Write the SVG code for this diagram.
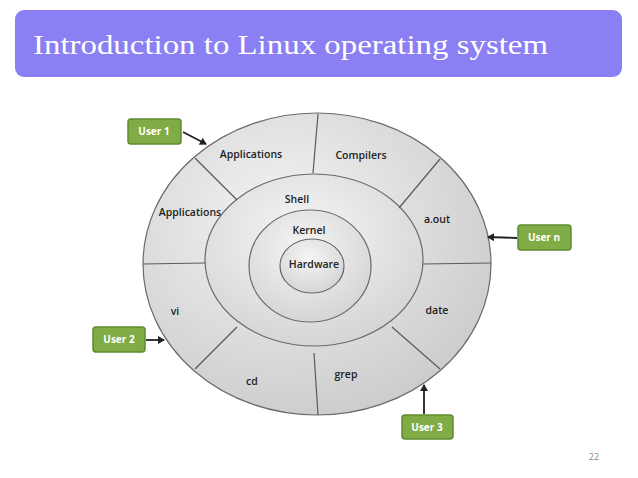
<svg xmlns="http://www.w3.org/2000/svg" width="638" height="478" viewBox="0 0 638 478">
<style>
.lbl{font-family:"Open Sans","DejaVu Sans",sans-serif;font-size:10.5px;fill:#222;text-anchor:middle;font-weight:600}
.usr{font-family:"Open Sans","DejaVu Sans",sans-serif;font-size:10px;fill:#fff;text-anchor:middle;font-weight:bold}
.ring{stroke:#6a6a6a;stroke-width:1.2}
.div{stroke:#5a5a5a;stroke-width:1.2}
.ub{fill:#7fac44;stroke:#5f8a30;stroke-width:1.5}
.ar{stroke:#222;stroke-width:1.8;fill:none;marker-end:url(#ah)}
</style>
<defs>
<radialGradient id="g1" cx="0.4" cy="0.35" r="0.75"><stop offset="0" stop-color="#f4f4f4"/><stop offset="1" stop-color="#c8c8c8"/></radialGradient>
<radialGradient id="g2" cx="0.45" cy="0.35" r="0.75"><stop offset="0" stop-color="#f6f6f6"/><stop offset="1" stop-color="#d0d0d0"/></radialGradient>
<marker id="ah" markerWidth="8" markerHeight="8" refX="6" refY="4" orient="auto" markerUnits="userSpaceOnUse"><path d="M0,0 L7,4 L0,8 Z" fill="#222"/></marker>
</defs>
<rect width="638" height="478" fill="#fff"/>
<g id="title"><rect x="15" y="10" width="607" height="67" rx="9" fill="#8b80f3"/>
<text x="33" y="54" font-family="Liberation Serif,serif" font-size="28" fill="#fff" textLength="515" lengthAdjust="spacingAndGlyphs">Introduction to Linux operating system</text></g>
<g id="outer"><ellipse cx="317" cy="264" rx="174" ry="151" class="ring" fill="url(#g1)"/></g>
<g id="shell"><ellipse cx="314" cy="260" rx="109" ry="86" class="ring" fill="url(#g2)"/><text x="297" y="203" class="lbl">Shell</text></g>
<g id="kernel"><ellipse cx="310" cy="266" rx="61" ry="56" class="ring" fill="url(#g2)"/><text x="309" y="234" class="lbl">Kernel</text></g>
<g id="hardware"><ellipse cx="312" cy="266" rx="32" ry="27" class="ring" fill="url(#g2)"/><text x="314" y="268" class="lbl">Hardware</text></g>
<g id="dividers">
<line x1="313" y1="173" x2="318" y2="114" class="div"/>
<line x1="399" y1="208" x2="440" y2="159" class="div"/>
<line x1="423" y1="264" x2="491" y2="263" class="div"/>
<line x1="392" y1="327" x2="440" y2="369" class="div"/>
<line x1="314" y1="353" x2="318" y2="415" class="div"/>
<line x1="237" y1="327" x2="195" y2="369" class="div"/>
<line x1="205" y1="263" x2="143" y2="264" class="div"/>
<line x1="237" y1="200" x2="195" y2="158" class="div"/>
</g>
<g id="segments">
<text x="251" y="158" class="lbl">Applications</text>
<text x="361" y="159" class="lbl">Compilers</text>
<text x="190" y="216" class="lbl">Applications</text>
<text x="437" y="223" class="lbl">a.out</text>
<text x="437" y="314" class="lbl">date</text>
<text x="175" y="315" class="lbl">vi</text>
<text x="252" y="385" class="lbl">cd</text>
<text x="346" y="378" class="lbl">grep</text>
</g>
<g id="user1"><rect x="128" y="119" width="53" height="25" rx="3" class="ub"/><text x="154" y="135" class="usr">User 1</text></g>
<g id="user2"><rect x="93" y="327" width="52" height="25" rx="3" class="ub"/><text x="119" y="343" class="usr">User 2</text></g>
<g id="user3"><rect x="402" y="415" width="51" height="24" rx="3" class="ub"/><text x="427" y="431" class="usr">User 3</text></g>
<g id="usern"><rect x="518" y="225" width="53" height="25" rx="3" class="ub"/><text x="544" y="241" class="usr">User n</text></g>
<g id="connectors">
<line x1="183" y1="132" x2="206" y2="144" class="ar"/>
<line x1="146" y1="340" x2="164" y2="340" class="ar"/>
<line x1="424" y1="414" x2="424" y2="385" class="ar"/>
<line x1="517" y1="238" x2="488" y2="237" class="ar"/>
</g>
<text x="594" y="460" font-family="Open Sans,sans-serif" font-size="9" fill="#888" text-anchor="middle">22</text>
</svg>
